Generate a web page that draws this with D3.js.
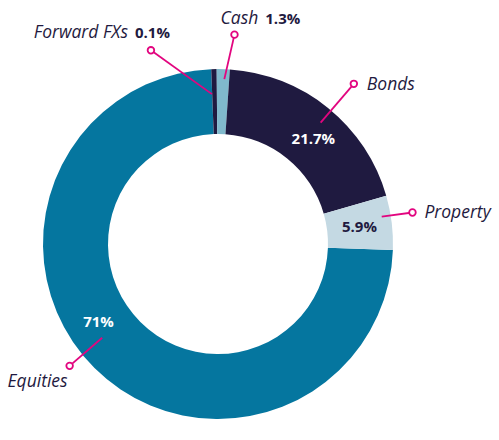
<!DOCTYPE html>
<html lang="en">
<head>
  <meta charset="UTF-8" />
  <title>Asset allocation</title>
  <style>
    * { margin:0; padding:0; box-sizing:border-box }
    body { background:#fff; font-family:'Open Sans',sans-serif; }
    #chart { width:499px; height:440px; }
    .name { font-style:italic; font-size:17.5px; fill:#1f1a40; }
    .pct  { font-weight:700; font-size:15px; }
  </style>
</head>
<body>
  <div id="chart"></div>

  <script src="https://d3js.org/d3.v7.min.js"></script>
  <script>
    // categories in drawing order (clockwise from the Equities start)
    const categories = ["Equities","Forward FXs","Cash","Bonds","Property"];
    // printed labels
    const labelValues = [71, 0.1, 1.3, 21.7, 5.9];
    // share of the ring each slice takes in the picture (%)
    const arcShares = [73.9, 0.5, 1.2, 19.5, 5.0];

    const colors = {
      "Equities":"#05769f", "Forward FXs":"#1f1a40", "Cash":"#80b9cc",
      "Bonds":"#1f1a40", "Property":"#c4d9e3"
    };

    // callout layout: polar angles in degrees, radii in px, label offsets from the dot
    const callouts = {
      "Forward FXs": { a0:-2.3, r0:150, a1:-19.1, r1:205, dx:19,  dy:-12, anchor:"end",   inline:true },
      "Cash":        { a0: 2.2, r0:165, a1:  4.5, r1:210, dx:-14, dy:-11, anchor:"start", inline:true },
      "Bonds":       { a0:40.2, r0:159, a1: 40.3, r1:210, dx:13,  dy:6,   anchor:"start" },
      "Property":    { a0:80.5, r0:166, a1: 80.8, r1:197, dx:12,  dy:5,   anchor:"start" },
      "Equities":    { a0:231,  r0:149, a1:230.6, r1:192, dx:-2,  dy:21,  anchor:"end" }
    };
    // inside value labels (angle in degrees) and their colours
    const insideLabels = {
      "Equities": { a:237, fill:"#fff" },
      "Bonds":    { a:42,  fill:"#fff" },
      "Property": { a:83,  fill:"#1f1a40" }
    };

    const width = 499, height = 440;
    const cx = 218, cy = 244, rOuter = 175, rInner = 110;
    const rad = d => d * Math.PI / 180;
    const polar = (a, r) => [cx + r * Math.sin(rad(a)), cy - r * Math.cos(rad(a))];

    const svg = d3.select("#chart").append("svg")
      .attr("width", width).attr("height", height);

    const data = categories.map((c, i) => ({ name:c, value:labelValues[i], share:arcShares[i] }));

    const start = rad(92);
    const pie = d3.pie().sort(null).value(d => d.share)
      .startAngle(start).endAngle(start + 2 * Math.PI);
    const arc = d3.arc().innerRadius(rInner).outerRadius(rOuter);

    svg.append("g")
      .attr("transform", `translate(${cx},${cy})`)
      .selectAll("path")
      .data(pie(data))
      .join("path")
      .attr("d", arc)
      .attr("fill", d => colors[d.data.name]);

    const fmt = v => v + "%";

    // values inside ring
    data.filter(d => insideLabels[d.name]).forEach(d => {
      const L = insideLabels[d.name];
      const [x, y] = polar(L.a, (rInner + rOuter) / 2);
      svg.append("text")
        .attr("class", "pct")
        .attr("x", x).attr("y", y)
        .attr("dy", "0.36em")
        .attr("text-anchor", "middle")
        .attr("fill", L.fill)
        .text(fmt(d.value));
    });

    // callouts
    data.forEach(d => {
      const c = callouts[d.name];
      const [x0, y0] = polar(c.a0, c.r0);
      const [x1, y1] = polar(c.a1, c.r1);
      svg.append("line")
        .attr("x1", x0).attr("y1", y0).attr("x2", x1).attr("y2", y1)
        .attr("stroke", "#e2057f").attr("stroke-width", 1.8);
      svg.append("circle")
        .attr("cx", x1).attr("cy", y1).attr("r", 3.3)
        .attr("fill", "#fff").attr("stroke", "#e2057f").attr("stroke-width", 1.8);
      const t = svg.append("text")
        .attr("x", x1 + c.dx).attr("y", y1 + c.dy)
        .attr("text-anchor", c.anchor)
        .attr("fill", "#1f1a40");
      t.append("tspan").attr("class", "name").text(d.name);
      if (c.inline) {
        t.append("tspan").attr("class", "pct").attr("dx", 7).text(fmt(d.value));
      }
    });
  </script>
</body>
</html>
